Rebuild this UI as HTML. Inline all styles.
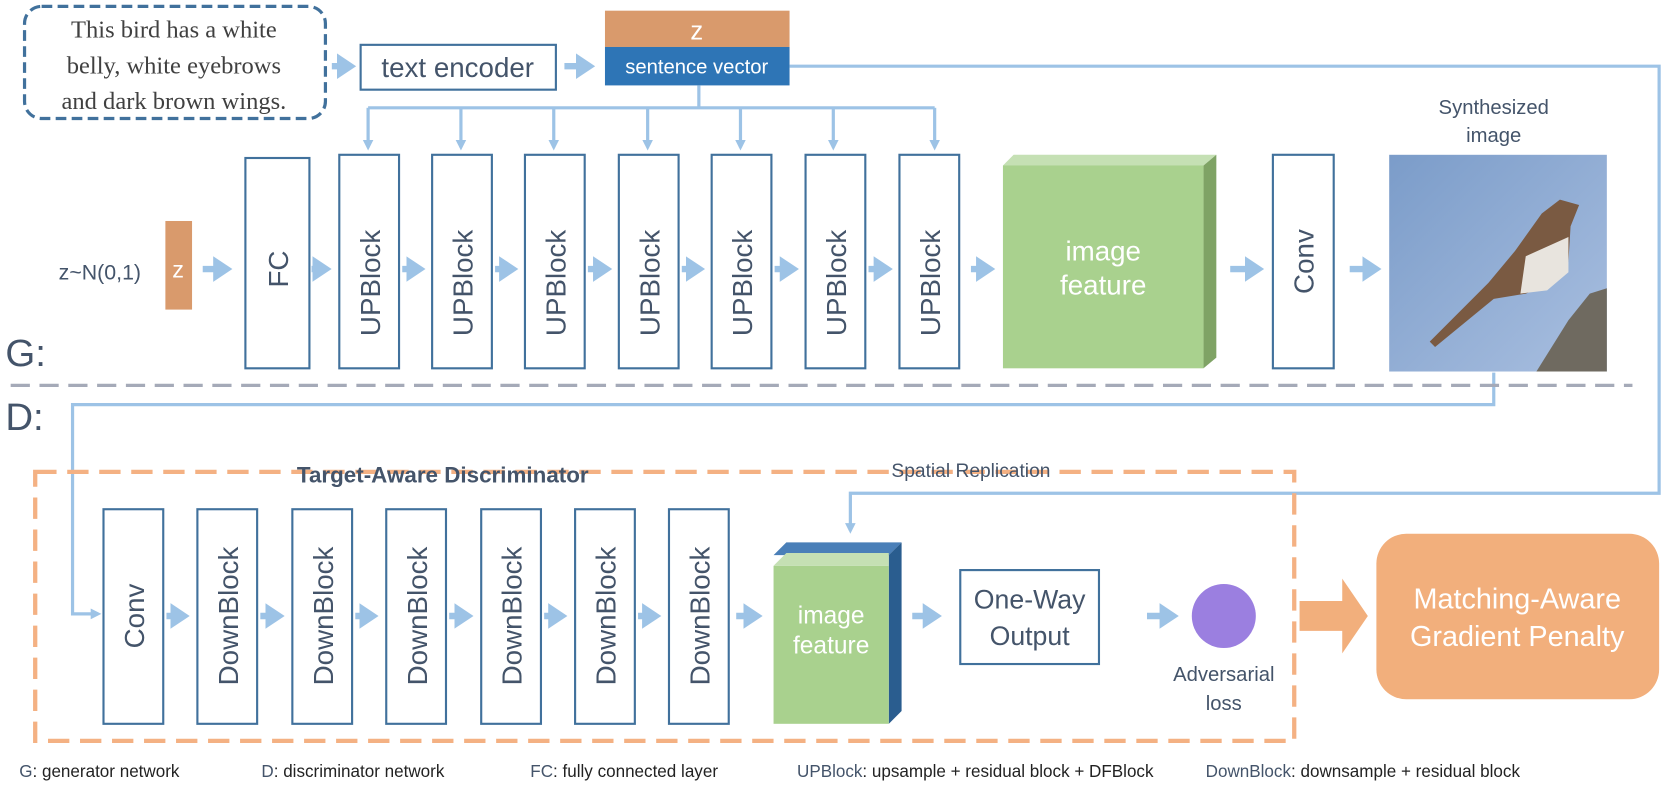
<!DOCTYPE html>
<html><head><style>
html,body{margin:0;padding:0;background:#fff;}
svg{display:block;}
text{font-family:"Liberation Sans",sans-serif;fill:#44546A;}
</style></head><body>
<svg width="1673" height="790" viewBox="0 0 1568 740" preserveAspectRatio="none" xmlns="http://www.w3.org/2000/svg">
<defs>
<marker id="ah" markerWidth="4" markerHeight="4" refX="2.2" refY="2" orient="auto" markerUnits="strokeWidth"><path d="M0,0 L3,2 L0,4 z" fill="#9DC3E6"/></marker>
<marker id="ahs" markerWidth="12" markerHeight="12" refX="7" refY="5" orient="auto" markerUnits="userSpaceOnUse"><path d="M0,0 L10,5 L0,10 z" fill="#9DC3E6"/></marker>
<linearGradient id="sky" x1="0" y1="0" x2="1" y2="1"><stop offset="0" stop-color="#7B9CC9"/><stop offset="1" stop-color="#A9BFE0"/></linearGradient>
</defs>

<rect x="23" y="6" width="282" height="105" rx="16" fill="none" stroke="#41719C" stroke-width="3" stroke-dasharray="10,5"/>
<text x="163" y="35" text-anchor="middle" style="font-family:'Liberation Serif',serif;font-size:23px;fill:#404040">This bird has a white</text>
<text x="163" y="69" text-anchor="middle" style="font-family:'Liberation Serif',serif;font-size:23px;fill:#404040">belly, white eyebrows</text>
<text x="163" y="102" text-anchor="middle" style="font-family:'Liberation Serif',serif;font-size:23px;fill:#404040">and dark brown wings.</text>
<g stroke="#9DC3E6" stroke-width="6" fill="none" marker-end="url(#ah)">
<line x1="311" y1="62" x2="329" y2="62"/>
<line x1="529" y1="62" x2="553" y2="62"/>
</g>
<rect x="338" y="42" width="183" height="42" fill="#fff" stroke="#41719C" stroke-width="2"/>
<text x="429" y="72" text-anchor="middle" font-size="26">text encoder</text>
<rect x="567" y="10" width="173" height="34" fill="#D99A6C"/>
<rect x="567" y="44" width="173" height="36" fill="#2E75B6"/>
<text x="653" y="37" text-anchor="middle" font-size="24" style="fill:#fff">z</text>
<text x="653" y="69" text-anchor="middle" font-size="19" style="fill:#fff">sentence vector</text>

<g stroke="#9DC3E6" stroke-width="3" fill="none">
<polyline points="740,62 1555,62 1555,462 797,462 797,497" marker-end="url(#ahs)"/>
<polyline points="655,80 655,101"/>
<polyline points="345,101 876,101"/>
<line x1="345" y1="101" x2="345" y2="138" marker-end="url(#ahs)"/>
<line x1="432" y1="101" x2="432" y2="138" marker-end="url(#ahs)"/>
<line x1="519" y1="101" x2="519" y2="138" marker-end="url(#ahs)"/>
<line x1="607" y1="101" x2="607" y2="138" marker-end="url(#ahs)"/>
<line x1="694" y1="101" x2="694" y2="138" marker-end="url(#ahs)"/>
<line x1="781" y1="101" x2="781" y2="138" marker-end="url(#ahs)"/>
<line x1="876" y1="101" x2="876" y2="138" marker-end="url(#ahs)"/>
<polyline points="1400,349 1400,379 68,379 68,575 92,575" marker-end="url(#ahs)"/>
</g>

<text x="55" y="262" font-size="20">z~N(0,1)</text>
<rect x="155" y="207" width="25" height="83" fill="#D99A6C"/>
<text x="167" y="260" text-anchor="middle" font-size="22" style="fill:#fff">z</text>
<rect x="230" y="148" width="60" height="197" fill="#fff" stroke="#41719C" stroke-width="2"/>
<text transform="translate(270,252) rotate(-90)" text-anchor="middle" font-size="26">FC</text>
<g stroke="#41719C" stroke-width="2" fill="#fff">
<rect x="318" y="145" width="56" height="200"/>
<rect x="405" y="145" width="56" height="200"/>
<rect x="492" y="145" width="56" height="200"/>
<rect x="580" y="145" width="56" height="200"/>
<rect x="667" y="145" width="56" height="200"/>
<rect x="755" y="145" width="56" height="200"/>
<rect x="843" y="145" width="56" height="200"/>
<rect x="1193" y="145" width="57" height="200"/>
</g>
<g font-size="26" text-anchor="middle">
<text transform="translate(356,265) rotate(-90)">UPBlock</text>
<text transform="translate(443,265) rotate(-90)">UPBlock</text>
<text transform="translate(530,265) rotate(-90)">UPBlock</text>
<text transform="translate(618,265) rotate(-90)">UPBlock</text>
<text transform="translate(705,265) rotate(-90)">UPBlock</text>
<text transform="translate(793,265) rotate(-90)">UPBlock</text>
<text transform="translate(881,265) rotate(-90)">UPBlock</text>
<text transform="translate(1231,245) rotate(-90)">Conv</text>
</g>
<g stroke="#9DC3E6" stroke-width="6" fill="none" marker-end="url(#ah)">
<line x1="190" y1="252" x2="213" y2="252"/>
<line x1="292" y1="252" x2="306" y2="252"/>
<line x1="377" y1="252" x2="394" y2="252"/>
<line x1="464" y1="252" x2="481" y2="252"/>
<line x1="551" y1="252" x2="569" y2="252"/>
<line x1="639" y1="252" x2="656" y2="252"/>
<line x1="726" y1="252" x2="744" y2="252"/>
<line x1="814" y1="252" x2="832" y2="252"/>
<line x1="910" y1="252" x2="928" y2="252"/>
<line x1="1153" y1="252" x2="1180" y2="252"/>
<line x1="1265" y1="252" x2="1290" y2="252"/>
</g>
<polygon points="940,155 950,145 1140,145 1128,155" fill="#C5E0B4"/>
<polygon points="1128,155 1140,145 1140,335 1128,345" fill="#7FA365"/>
<rect x="940" y="155" width="188" height="190" fill="#A9D18E"/>
<text x="1034" y="244" text-anchor="middle" font-size="26" style="fill:#fff">image</text>
<text x="1034" y="276" text-anchor="middle" font-size="26" style="fill:#fff">feature</text>

<text x="1400" y="107" text-anchor="middle" font-size="19">Synthesized</text>
<text x="1400" y="133" text-anchor="middle" font-size="19">image</text>
<rect x="1302" y="145" width="204" height="203" fill="url(#sky)"/>
<path d="M1440,348 L1470,300 L1490,275 L1506,270 L1506,348 z" fill="#6F6A60"/>
<path d="M1340,320 L1395,265 L1420,235 L1445,200 L1462,187 L1480,192 L1472,212 L1470,245 L1455,265 L1430,275 L1400,280 L1345,325 z" fill="#7A5A42"/>
<path d="M1430,240 L1470,222 L1470,255 L1450,272 L1425,275 z" fill="#E8E4DE"/>

<line x1="10" y1="361" x2="1530" y2="361" stroke="#A5AAB8" stroke-width="3" stroke-dasharray="18,9"/>
<text x="5" y="343" font-size="36">G:</text>
<text x="5" y="403" font-size="36">D:</text>

<rect x="33" y="442" width="1180" height="252" fill="none" stroke="#F4B183" stroke-width="4" stroke-dasharray="20,10"/>
<text x="415" y="452" text-anchor="middle" font-size="21" font-weight="bold">Target-Aware Discriminator</text>
<text x="910" y="447" text-anchor="middle" font-size="18">Spatial Replication</text>
<g stroke="#41719C" stroke-width="2" fill="#fff">
<rect x="97" y="477" width="56" height="201"/>
<rect x="185" y="477" width="56" height="201"/>
<rect x="274" y="477" width="56" height="201"/>
<rect x="362" y="477" width="56" height="201"/>
<rect x="451" y="477" width="56" height="201"/>
<rect x="539" y="477" width="56" height="201"/>
<rect x="627" y="477" width="56" height="201"/>
<rect x="900" y="534" width="130" height="88"/>
</g>
<g font-size="26" text-anchor="middle">
<text transform="translate(135,577) rotate(-90)">Conv</text>
<text transform="translate(223,577) rotate(-90)">DownBlock</text>
<text transform="translate(312,577) rotate(-90)">DownBlock</text>
<text transform="translate(400,577) rotate(-90)">DownBlock</text>
<text transform="translate(489,577) rotate(-90)">DownBlock</text>
<text transform="translate(577,577) rotate(-90)">DownBlock</text>
<text transform="translate(665,577) rotate(-90)">DownBlock</text>
<text x="965" y="570" font-size="25">One-Way</text>
<text x="965" y="604" font-size="25">Output</text>
</g>
<g stroke="#9DC3E6" stroke-width="6" fill="none" marker-end="url(#ah)">
<line x1="156" y1="577" x2="173" y2="577"/>
<line x1="244" y1="577" x2="262" y2="577"/>
<line x1="333" y1="577" x2="350" y2="577"/>
<line x1="421" y1="577" x2="439" y2="577"/>
<line x1="510" y1="577" x2="527" y2="577"/>
<line x1="598" y1="577" x2="615" y2="577"/>
<line x1="690" y1="577" x2="710" y2="577"/>
<line x1="855" y1="577" x2="878" y2="577"/>
<line x1="1075" y1="577" x2="1100" y2="577"/>
</g>
<polygon points="725,520 737,508 845,508 833,520" fill="#4A7FB8"/>
<polygon points="833,520 845,508 845,666 833,678" fill="#2A5D8F"/>
<polygon points="725,530 737,518 833,518 833,530" fill="#C5E0B4"/>
<rect x="725" y="530" width="108" height="148" fill="#A9D18E"/>
<text x="779" y="584" text-anchor="middle" font-size="23" style="fill:#fff">image</text>
<text x="779" y="612" text-anchor="middle" font-size="23" style="fill:#fff">feature</text>
<circle cx="1147" cy="577" r="30" fill="#9B7FE0"/>
<text x="1147" y="638" text-anchor="middle" font-size="19">Adversarial</text>
<text x="1147" y="665" text-anchor="middle" font-size="19">loss</text>
<polygon points="1218,563 1258,563 1258,542 1282,577 1258,612 1258,591 1218,591" fill="#F2AF7C"/>
<rect x="1290" y="500" width="265" height="155" rx="28" fill="#F2AF7C"/>
<text x="1422" y="570" text-anchor="middle" font-size="27" style="fill:#fff">Matching-Aware</text>
<text x="1422" y="605" text-anchor="middle" font-size="27" style="fill:#fff">Gradient Penalty</text>

<g font-size="16">
<text x="18" y="728"><tspan>G</tspan><tspan style="fill:#222">: generator network</tspan></text>
<text x="245" y="728"><tspan>D</tspan><tspan style="fill:#222">: discriminator network</tspan></text>
<text x="497" y="728"><tspan>FC</tspan><tspan style="fill:#222">: fully connected layer</tspan></text>
<text x="747" y="728"><tspan>UPBlock</tspan><tspan style="fill:#222">: upsample + residual block + DFBlock</tspan></text>
<text x="1130" y="728"><tspan>DownBlock</tspan><tspan style="fill:#222">: downsample + residual block</tspan></text>
</g>
</svg>
</body></html>
